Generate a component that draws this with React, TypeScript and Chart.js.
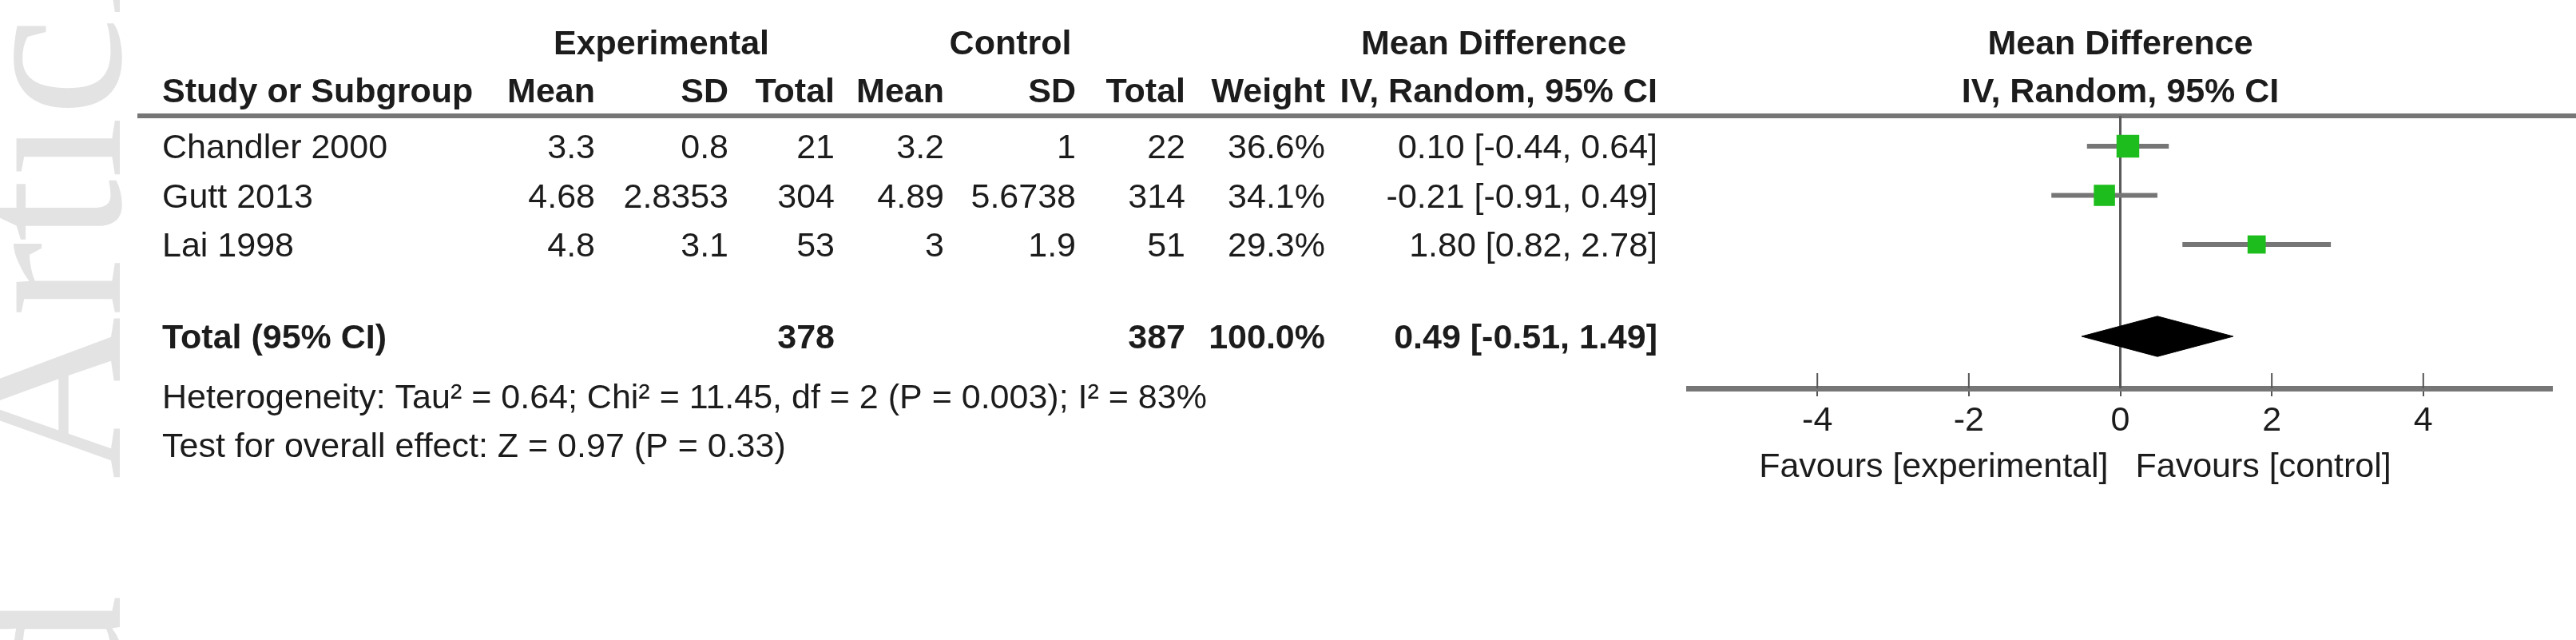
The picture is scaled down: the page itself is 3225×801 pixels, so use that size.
import React, { useEffect, useRef } from "react";
import { Chart, registerables } from "chart.js";

Chart.register(...registerables);

// ---- data ----
const studies = ["Chandler 2000", "Gutt 2013", "Lai 1998"];
const expMean = [3.3, 4.68, 4.8];
const expSD = [0.8, 2.8353, 3.1];
const expTotal = [21, 304, 53];
const ctrlMean = [3.2, 4.89, 3];
const ctrlSD = [1, 5.6738, 1.9];
const ctrlTotal = [22, 314, 51];
const weights = [36.6, 34.1, 29.3];
const meanDiff = [0.1, -0.21, 1.8];
const ciLower = [-0.44, -0.91, 0.82];
const ciUpper = [0.64, 0.49, 2.78];
const pooledExpTotal = 378;
const pooledCtrlTotal = 387;
const pooledWeight = 100.0;
const pooledMD = 0.49;
const pooledLower = -0.51;
const pooledUpper = 1.49;
const tickValues = [-4, -2, 0, 2, 4];
const heterogeneityText =
  "Heterogeneity: Tau\u00B2 = 0.64; Chi\u00B2 = 11.45, df = 2 (P = 0.003); I\u00B2 = 83%";
const overallEffectText = "Test for overall effect: Z = 0.97 (P = 0.33)";
const favoursLeft = "Favours [experimental]";
const favoursRight = "Favours [control]";

// ---- style ----
const FONT = '"Liberation Sans", Arial, sans-serif';
const FS = 43;
const CAP = 15; // half cap height offset for baseline
const TEXT = "#1c1c1c";
const LINE_GRAY = "#767676";
const GREEN = "#1dbd1d";

const studyRow = (i: number) => i + 1;
const totalRow = studies.length + 1.87;
const diamondHalf = 0.41;

const fmt2 = (v: number) => v.toFixed(2);
const ciText = (m: number, l: number, h: number) => `${fmt2(m)} [${fmt2(l)}, ${fmt2(h)}]`;

const tablePlugin = {
  id: "forestTable",
  beforeDraw(chart: any) {
    const ctx = chart.ctx;
    ctx.save();
    ctx.fillStyle = "#ffffff";
    ctx.fillRect(0, 0, chart.width, chart.height);
    // watermark
    ctx.translate(150, 600);
    ctx.rotate(-Math.PI / 2);
    ctx.font = '282px "Liberation Serif", "DejaVu Serif", serif';
    ctx.fillStyle = "#e3e3e3";
    ctx.textBaseline = "alphabetic";
    ctx.textAlign = "left";
    ctx.fillText("Article", 0, 0);
    ctx.textAlign = "right";
    ctx.fillText("Accepted", -145, 0);
    ctx.restore();
  },
  beforeDatasetsDraw(chart: any) {
    const ctx = chart.ctx;
    const xs = chart.scales.x;
    const area = chart.chartArea;
    ctx.save();
    // header rule
    ctx.strokeStyle = LINE_GRAY;
    ctx.lineWidth = 6;
    ctx.beginPath();
    ctx.moveTo(172, area.top);
    ctx.lineTo(chart.width, area.top);
    ctx.stroke();
    // zero line
    const x0 = xs.getPixelForValue(0);
    ctx.strokeStyle = "#5a5a5a";
    ctx.lineWidth = 3;
    ctx.beginPath();
    ctx.moveTo(x0, area.top);
    ctx.lineTo(x0, area.bottom);
    ctx.stroke();
    ctx.restore();
  },
  afterDraw(chart: any) {
    const ctx = chart.ctx;
    const xs = chart.scales.x;
    const ys = chart.scales.y;
    const area = chart.chartArea;
    const x0 = xs.getPixelForValue(0);
    ctx.save();
    // upper parts of tick marks
    ctx.strokeStyle = "#555555";
    ctx.lineWidth = 2;
    tickValues.forEach((v) => {
      const x = xs.getPixelForValue(v);
      ctx.beginPath();
      ctx.moveTo(x, area.bottom - 19);
      ctx.lineTo(x, area.bottom);
      ctx.stroke();
    });

    ctx.fillStyle = TEXT;
    ctx.textBaseline = "alphabetic";
    const put = (s: string, x: number, cy: number, align: string, bold = false) => {
      ctx.font = `${bold ? "bold " : ""}${FS}px ${FONT}`;
      ctx.textAlign = align;
      ctx.fillText(s, x, cy + CAP);
    };

    const colName = 203;
    const cols = [745, 912, 1045, 1182, 1347, 1484, 1659, 2075];

    // header rows
    const h1 = 53;
    const h2 = 113;
    put("Experimental", 828, h1, "center", true);
    put("Control", 1265, h1, "center", true);
    put("Mean Difference", 1870, h1, "center", true);
    put("Mean Difference", x0, h1, "center", true);
    put("Study or Subgroup", colName, h2, "left", true);
    const heads = ["Mean", "SD", "Total", "Mean", "SD", "Total", "Weight", "IV, Random, 95% CI"];
    heads.forEach((h, i) => put(h, cols[i], h2, "right", true));
    put("IV, Random, 95% CI", x0, h2, "center", true);

    // study rows
    studies.forEach((name, i) => {
      const cy = ys.getPixelForValue(studyRow(i));
      put(name, colName, cy, "left");
      const vals = [
        String(expMean[i]),
        String(expSD[i]),
        String(expTotal[i]),
        String(ctrlMean[i]),
        String(ctrlSD[i]),
        String(ctrlTotal[i]),
        weights[i].toFixed(1) + "%",
        ciText(meanDiff[i], ciLower[i], ciUpper[i]),
      ];
      vals.forEach((v, j) => put(v, cols[j], cy, "right"));
    });

    // total row
    const ty = ys.getPixelForValue(totalRow);
    put("Total (95% CI)", colName, ty, "left", true);
    put(String(pooledExpTotal), cols[2], ty, "right", true);
    put(String(pooledCtrlTotal), cols[5], ty, "right", true);
    put(pooledWeight.toFixed(1) + "%", cols[6], ty, "right", true);
    put(ciText(pooledMD, pooledLower, pooledUpper), cols[7], ty, "right", true);

    put(heterogeneityText, colName, 496, "left");
    put(overallEffectText, colName, 557, "left");

    // favours labels
    put(favoursLeft, x0 - 15, 582, "right");
    put(favoursRight, x0 + 19, 582, "left");
    ctx.restore();
  },
};

export default function App() {
  const ref = useRef<HTMLCanvasElement | null>(null);

  useEffect(() => {
    document.body.style.margin = "0";
    const canvas = ref.current;
    if (!canvas) return;

    const ciSets = studies.map((s, i) => ({
      type: "line",
      label: s + " CI",
      data: [
        { x: ciLower[i], y: studyRow(i) },
        { x: ciUpper[i], y: studyRow(i) },
      ],
      borderColor: LINE_GRAY,
      borderWidth: 6,
      pointRadius: 0,
      fill: false,
      order: 3,
    }));

    const squares = {
      type: "line",
      label: "Study estimates",
      data: studies.map((_, i) => ({ x: meanDiff[i], y: studyRow(i) })),
      showLine: false,
      pointStyle: "rect",
      pointRadius: weights.map((w) => w * 0.55),
      backgroundColor: GREEN,
      borderColor: GREEN,
      pointBorderWidth: 0,
      order: 0,
    };

    const diamond = {
      type: "line",
      label: "Pooled",
      data: [
        { x: pooledLower, y: totalRow },
        { x: pooledMD, y: totalRow - diamondHalf },
        { x: pooledUpper, y: totalRow },
        { x: pooledMD, y: totalRow + diamondHalf },
        { x: pooledLower, y: totalRow },
      ],
      borderColor: "#000000",
      backgroundColor: "#000000",
      borderWidth: 1,
      pointRadius: 0,
      fill: "shape",
      tension: 0,
      order: 1,
    };

    const chart = new Chart(canvas, {
      type: "line",
      data: { datasets: [squares, diamond, ...ciSets] as any },
      options: {
        responsive: false,
        animation: false,
        events: [],
        layout: { padding: { left: 2114, right: 30, top: 145, bottom: 235 } },
        plugins: { legend: { display: false }, tooltip: { enabled: false } },
        scales: {
          x: {
            type: "linear",
            position: "bottom",
            min: -5.7,
            max: 5.7,
            afterBuildTicks: (scale: any) => {
              scale.ticks = tickValues.map((v) => ({ value: v }));
            },
            afterFit: (scale: any) => {
              scale.height = 80;
            },
            ticks: {
              autoSkip: false,
              maxRotation: 0,
              padding: 5,
              color: TEXT,
              font: { family: FONT, size: FS },
              callback: (v: any) => String(v),
            },
            grid: {
              display: true,
              drawOnChartArea: false,
              drawTicks: true,
              tickLength: 10,
              color: "#555555",
              lineWidth: 2,
            },
            border: { display: true, color: LINE_GRAY, width: 7 },
          },
          y: {
            type: "linear",
            display: false,
            reverse: true,
            min: 0.382,
            max: 5.927,
          },
        },
      },
      plugins: [tablePlugin],
    } as any);

    return () => chart.destroy();
  }, []);

  return <canvas ref={ref} width={3225} height={801} style={{ display: "block" }} />;
}
